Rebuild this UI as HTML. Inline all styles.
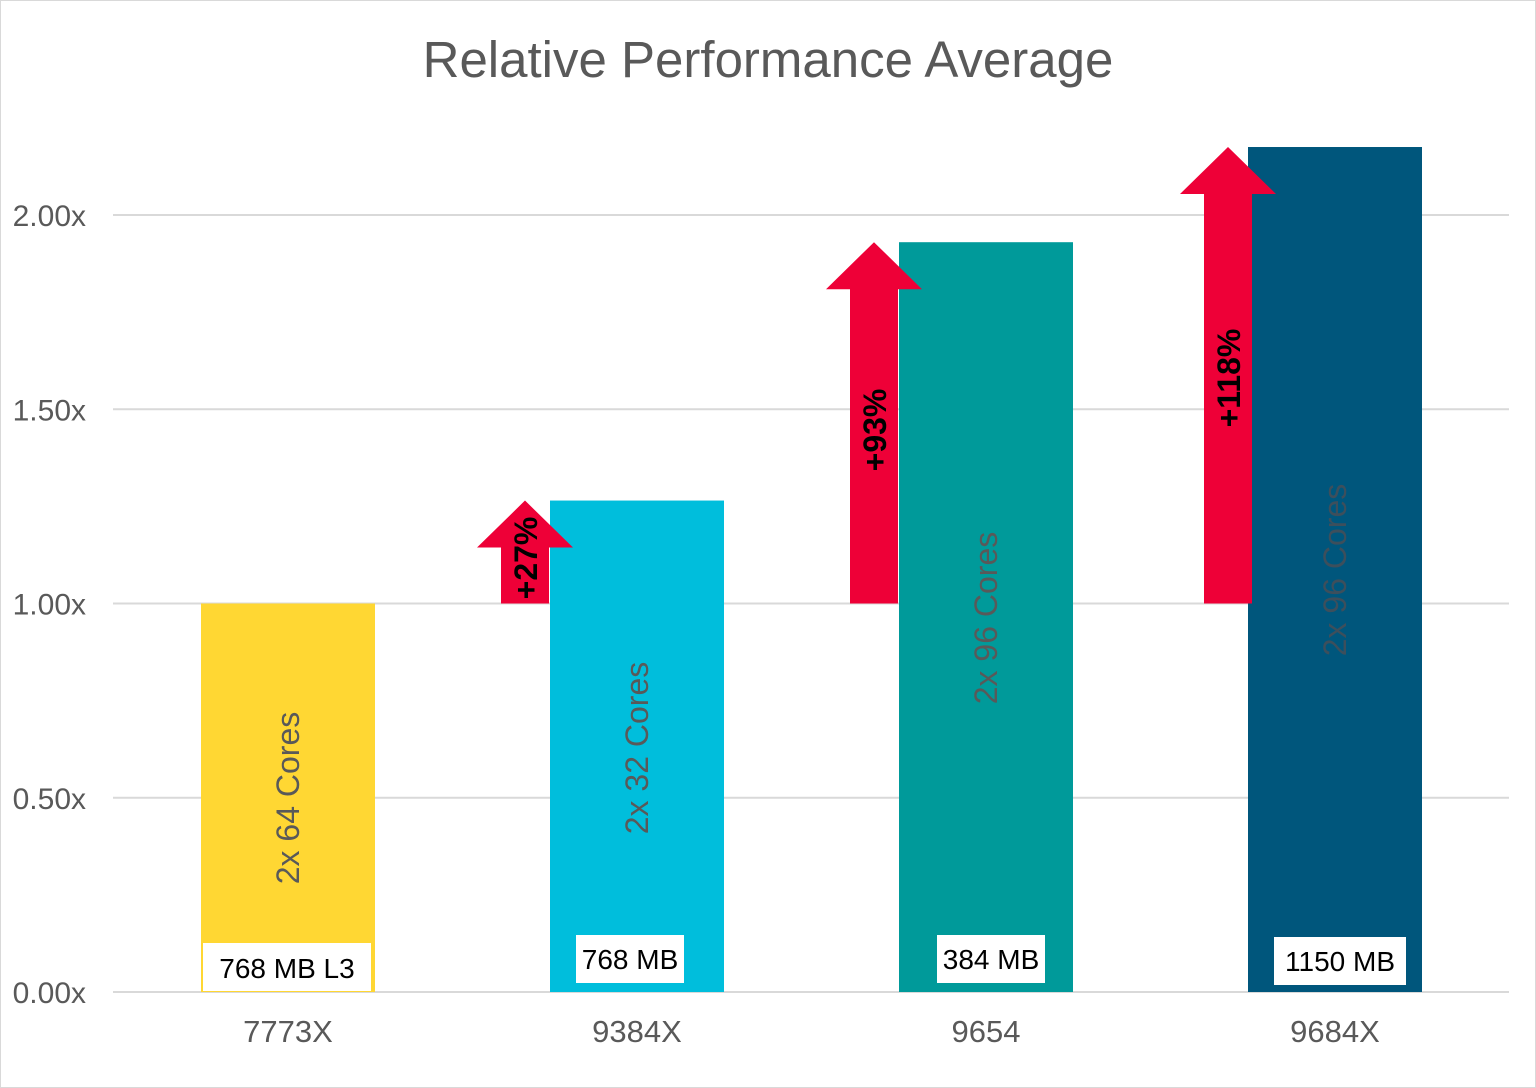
<!DOCTYPE html>
<html><head><meta charset="utf-8"><style>
html,body{margin:0;padding:0;background:#fff}
#frame{position:absolute;left:0;top:0;width:1534px;height:1086px;border:1px solid #d9d9d9;}
svg text{font-family:"Liberation Sans",Arial,sans-serif}
</style></head><body>
<div id="frame"></div>
<svg id="chart" width="1536" height="1088" style="position:absolute;left:0;top:0">
<text x="768" y="77" text-anchor="middle" font-size="51" fill="#595959">Relative Performance Average</text>
<g id="grid"></g><g id="bars"></g><g id="arrows"></g><g id="labels"></g>
</svg>
<script>
const categories=["7773X","9384X","9654","9684X"];
const values=[1.00,1.265,1.93,2.175];
const coreLabels=["2x 64 Cores","2x 32 Cores","2x 96 Cores","2x 96 Cores"];
const cacheLabels=["768 MB L3","768 MB","384 MB","1150 MB"];
const gainLabels=["","+27%","+93%","+118%"];
const ticks=[0,0.5,1,1.5,2];
const tickLabels=["0.00x","0.50x","1.00x","1.50x","2.00x"];
const colors=["#FFD733","#00BEDC","#009A9A","#00567C"];
const coreColors=["#595959","#595959","#595959","#3d4f5c"];
const NS="http://www.w3.org/2000/svg";
function y(v){return 992-v*388.5;}
function xb(i){return 201+i*349;}
const BW=174;
function mk(tag,attrs,parent,txt){const e=document.createElementNS(NS,tag);for(const k in attrs)e.setAttribute(k,attrs[k]);if(txt!==undefined)e.textContent=txt;document.getElementById(parent).appendChild(e);return e;}
ticks.forEach((t,i)=>{
 const l=mk('line',{x1:113,x2:1509,y1:y(t),y2:y(t),stroke:'#d9d9d9','stroke-width':2},'grid');
 
 
 const tx=mk('text',{x:86,y:y(t)+11,'text-anchor':'end','font-size':30,fill:'#595959'},'grid',tickLabels[i]);
 
 
});
const boxOffsets=[0,-7,5,5];
const arrowOffsets=[0,-1,-1,4];
categories.forEach((c,i)=>{
 const x=xb(i);
 const r=mk('rect',{x:x,y:y(values[i]),width:BW,height:y(0)-y(values[i]),fill:colors[i]},'bars');
 
 
 const cx=x+BW/2;
 const cl=mk('text',{x:0,y:0,'text-anchor':'middle','font-size':32,fill:coreColors[i],transform:`translate(${cx+11},${i==3?570:(i==2?618:(i==1?748:798))}) rotate(-90)`},'labels',coreLabels[i]);
 
 
 const bw=i==0?168:(i==3?132:108);
 const bx=i==0?x+2:cx-bw/2+boxOffsets[i];
 const by=i==0?943:(i==3?937:935);
 const b=mk('rect',{x:bx,y:by,width:bw,height:48,fill:'#fff'},'labels');
 
 
 const ct=mk('text',{x:bx+bw/2,y:by+(i==0?35:34),'text-anchor':'middle','font-size':28,fill:'#000'},'labels',cacheLabels[i]);
 
 
 const xl=mk('text',{x:cx,y:1042,'text-anchor':'middle','font-size':31,fill:'#595959'},'labels',c);
 
 
 if(gainLabels[i]){
  const r0=x+arrowOffsets[i], l0=r0-48, top=y(values[i]), hb=top+47, base=y(values[0]);
  const p=mk('polygon',{points:`${l0},${base} ${r0},${base} ${r0},${hb} ${r0+24},${hb} ${(l0+r0)/2},${top} ${l0-24},${hb} ${l0},${hb}`,fill:'#EE0037'},'arrows');
  
  
  const gy=i==1?558:(i==2?430:378);
  const g=mk('text',{x:0,y:0,'text-anchor':'middle','font-size':32,'font-weight':'bold',fill:'#000',transform:`translate(${(l0+r0)/2+12},${gy}) rotate(-90)`},'labels',gainLabels[i]);
  
  
 }
});
</script>
</body></html>
